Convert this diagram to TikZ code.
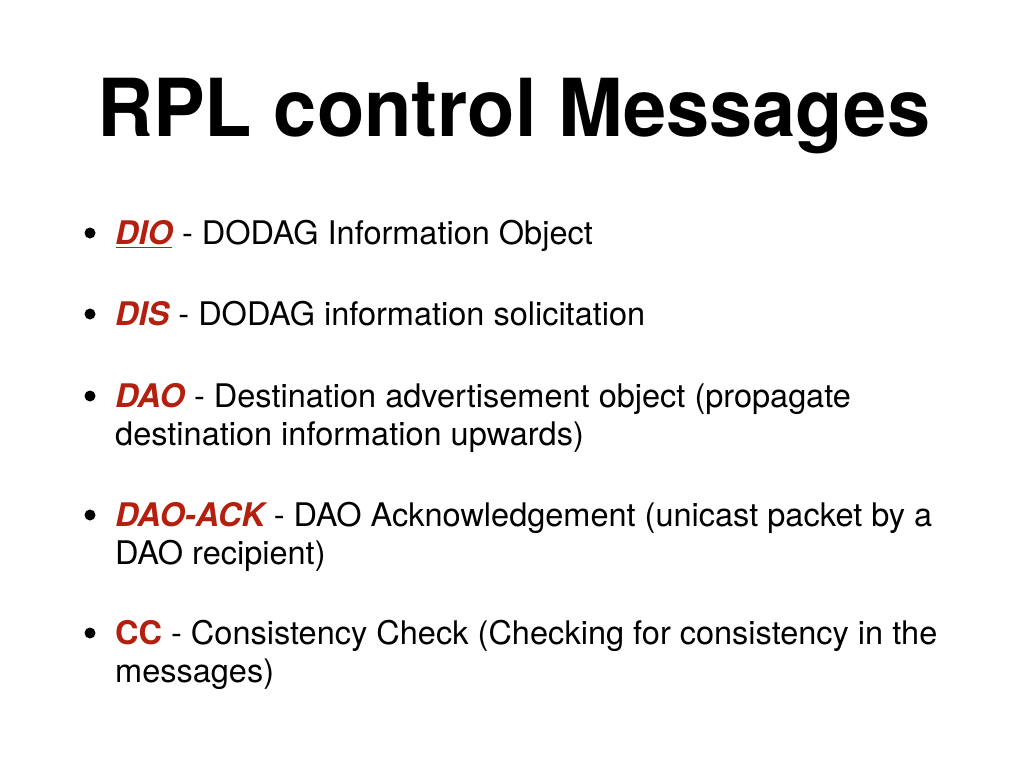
\documentclass[tikz,border=0pt]{standalone}
\usepackage{fontspec}
\setmainfont{TeX Gyre Heros}
\definecolor{keyred}{HTML}{B3200F}
\begin{document}
\begin{tikzpicture}[x=1pt,y=-1pt,
  item/.style={anchor=base west,inner sep=0pt,font=\fontsize{32.5}{38.5}\selectfont},
  dot/.style={circle,fill=black,inner sep=0pt,minimum size=11pt}]
\useasboundingbox (0,0) rectangle (1024,768);
\fill[white] (0,0) rectangle (1024,768);
\node[anchor=base west,inner sep=0pt,font=\fontsize{80}{80}\selectfont\bfseries] (title) at (97,136) {\scalebox{0.97}[1]{RPL control Messages}};
\newcommand{\kw}[1]{\textcolor{keyred}{\bfseries\itshape #1}}
\node[dot] (b1) at (90,233) {};
\node[item] (t1) at (115,244) {\kw{DIO} - DODAG Information Object};
\draw[keyred,line width=1.8pt] ([yshift=-3.5pt,xshift=1pt]t1.base west) -- ++(56,0) coordinate (u1);
\node[dot] (b2) at (90,314) {};
\node[item] (t2) at (115,325) {\kw{DIS} - DODAG information solicitation};
\node[dot] (b3) at (90,396) {};
\node[item] (t3) at (115,407) {\kw{DAO} - Destination advertisement object (propagate};
\node[item] (t3b) at (115,445.5) {destination information upwards)};
\node[dot] (b4) at (90,515) {};
\node[item] (t4) at (115,526) {\kw{DAO-ACK} - DAO Acknowledgement (unicast packet by a};
\node[item] (t4b) at (115,564.5) {DAO recipient)};
\node[dot] (b5) at (90,633) {};
\node[item] (t5) at (115,644) {\textcolor{keyred}{\bfseries CC} - Consistency Check (Checking for consistency in the};
\node[item] (t5b) at (115,682.5) {messages)};
\end{tikzpicture}
\end{document}
